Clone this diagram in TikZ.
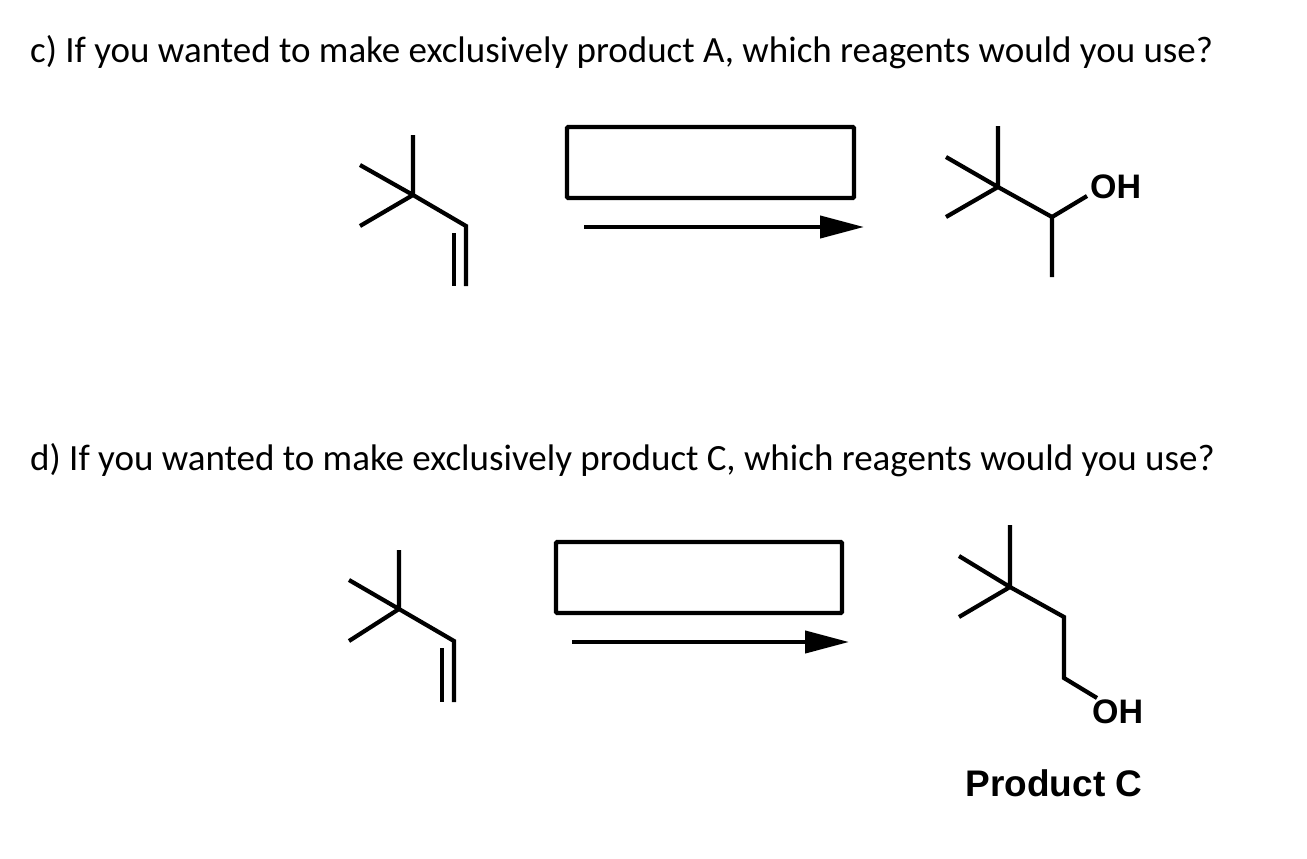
\documentclass[tikz,border=0pt]{standalone}
\usepackage{fontspec}
\setmainfont{Carlito}
\newfontfamily\hel{Liberation Sans}
\usetikzlibrary{arrows.meta}
\begin{document}
\begin{tikzpicture}[x=1pt,y=-1pt,bond/.style={line width=4.2pt},
 q/.style={anchor=base west,inner sep=0,font=\fontsize{37}{40}\selectfont},
 lab/.style={inner sep=0,font=\hel\bfseries\fontsize{34}{36}\selectfont},
 plab/.style={inner sep=0,font=\hel\bfseries\fontsize{37}{40}\selectfont},
 rbox/.style={draw,line width=4.2pt,rounded corners=1pt},
 rarrow/.style={line width=4.2pt,-{Triangle[length=44pt,width=22pt]}}]
\useasboundingbox (0,0) rectangle (1307,859);
\node[q] (qc) at (30,63) {c) If you wanted to make exclusively product A, which reagents would you use?};
\node[q] (qd) at (30,470) {d) If you wanted to make exclusively product C, which reagents would you use?};
% top reactant
\draw[bond] (413,135)--(413,195) (360,165)--(413,195)--(360,226) (413,195)--(466,226)--(466,286);
\draw[bond] (454,233)--(454,286);
\draw[rbox] (567,127) rectangle (854,198);
\coordinate (a1) at (584,227); \coordinate (a2) at (864,227);
\draw[rarrow] (a1)--(a2);
% top product
\node[lab,anchor=west] (oh1) at (1090,187) {OH};
\draw[bond] (998,126)--(998,187) (946,157)--(998,187)--(946,217) (998,187)--(1052,217)--(1052,277);
\coordinate (o1) at (1087,196);
\draw[bond] (1052,217)--(o1);
% bottom reactant
\draw[bond] (399,550)--(399,609) (349,580)--(399,609)--(349,641) (399,609)--(454,641)--(454,702);
\draw[bond] (442,648)--(442,702);
\draw[rbox] (556,542) rectangle (842,613);
\coordinate (b1) at (572,642); \coordinate (b2) at (849,642);
\draw[rarrow] (b1)--(b2);
% bottom product
\node[lab,anchor=west] (oh2) at (1092,712) {OH};
\coordinate (o2) at (1097,698);
\draw[bond] (1010,525)--(1010,587) (959,556)--(1010,587)--(959,617) (1010,587)--(1064,617)--(1064,678)--(o2);
\node[plab] (pc) at (1054,783) {Product C};
\end{tikzpicture}
\end{document}
